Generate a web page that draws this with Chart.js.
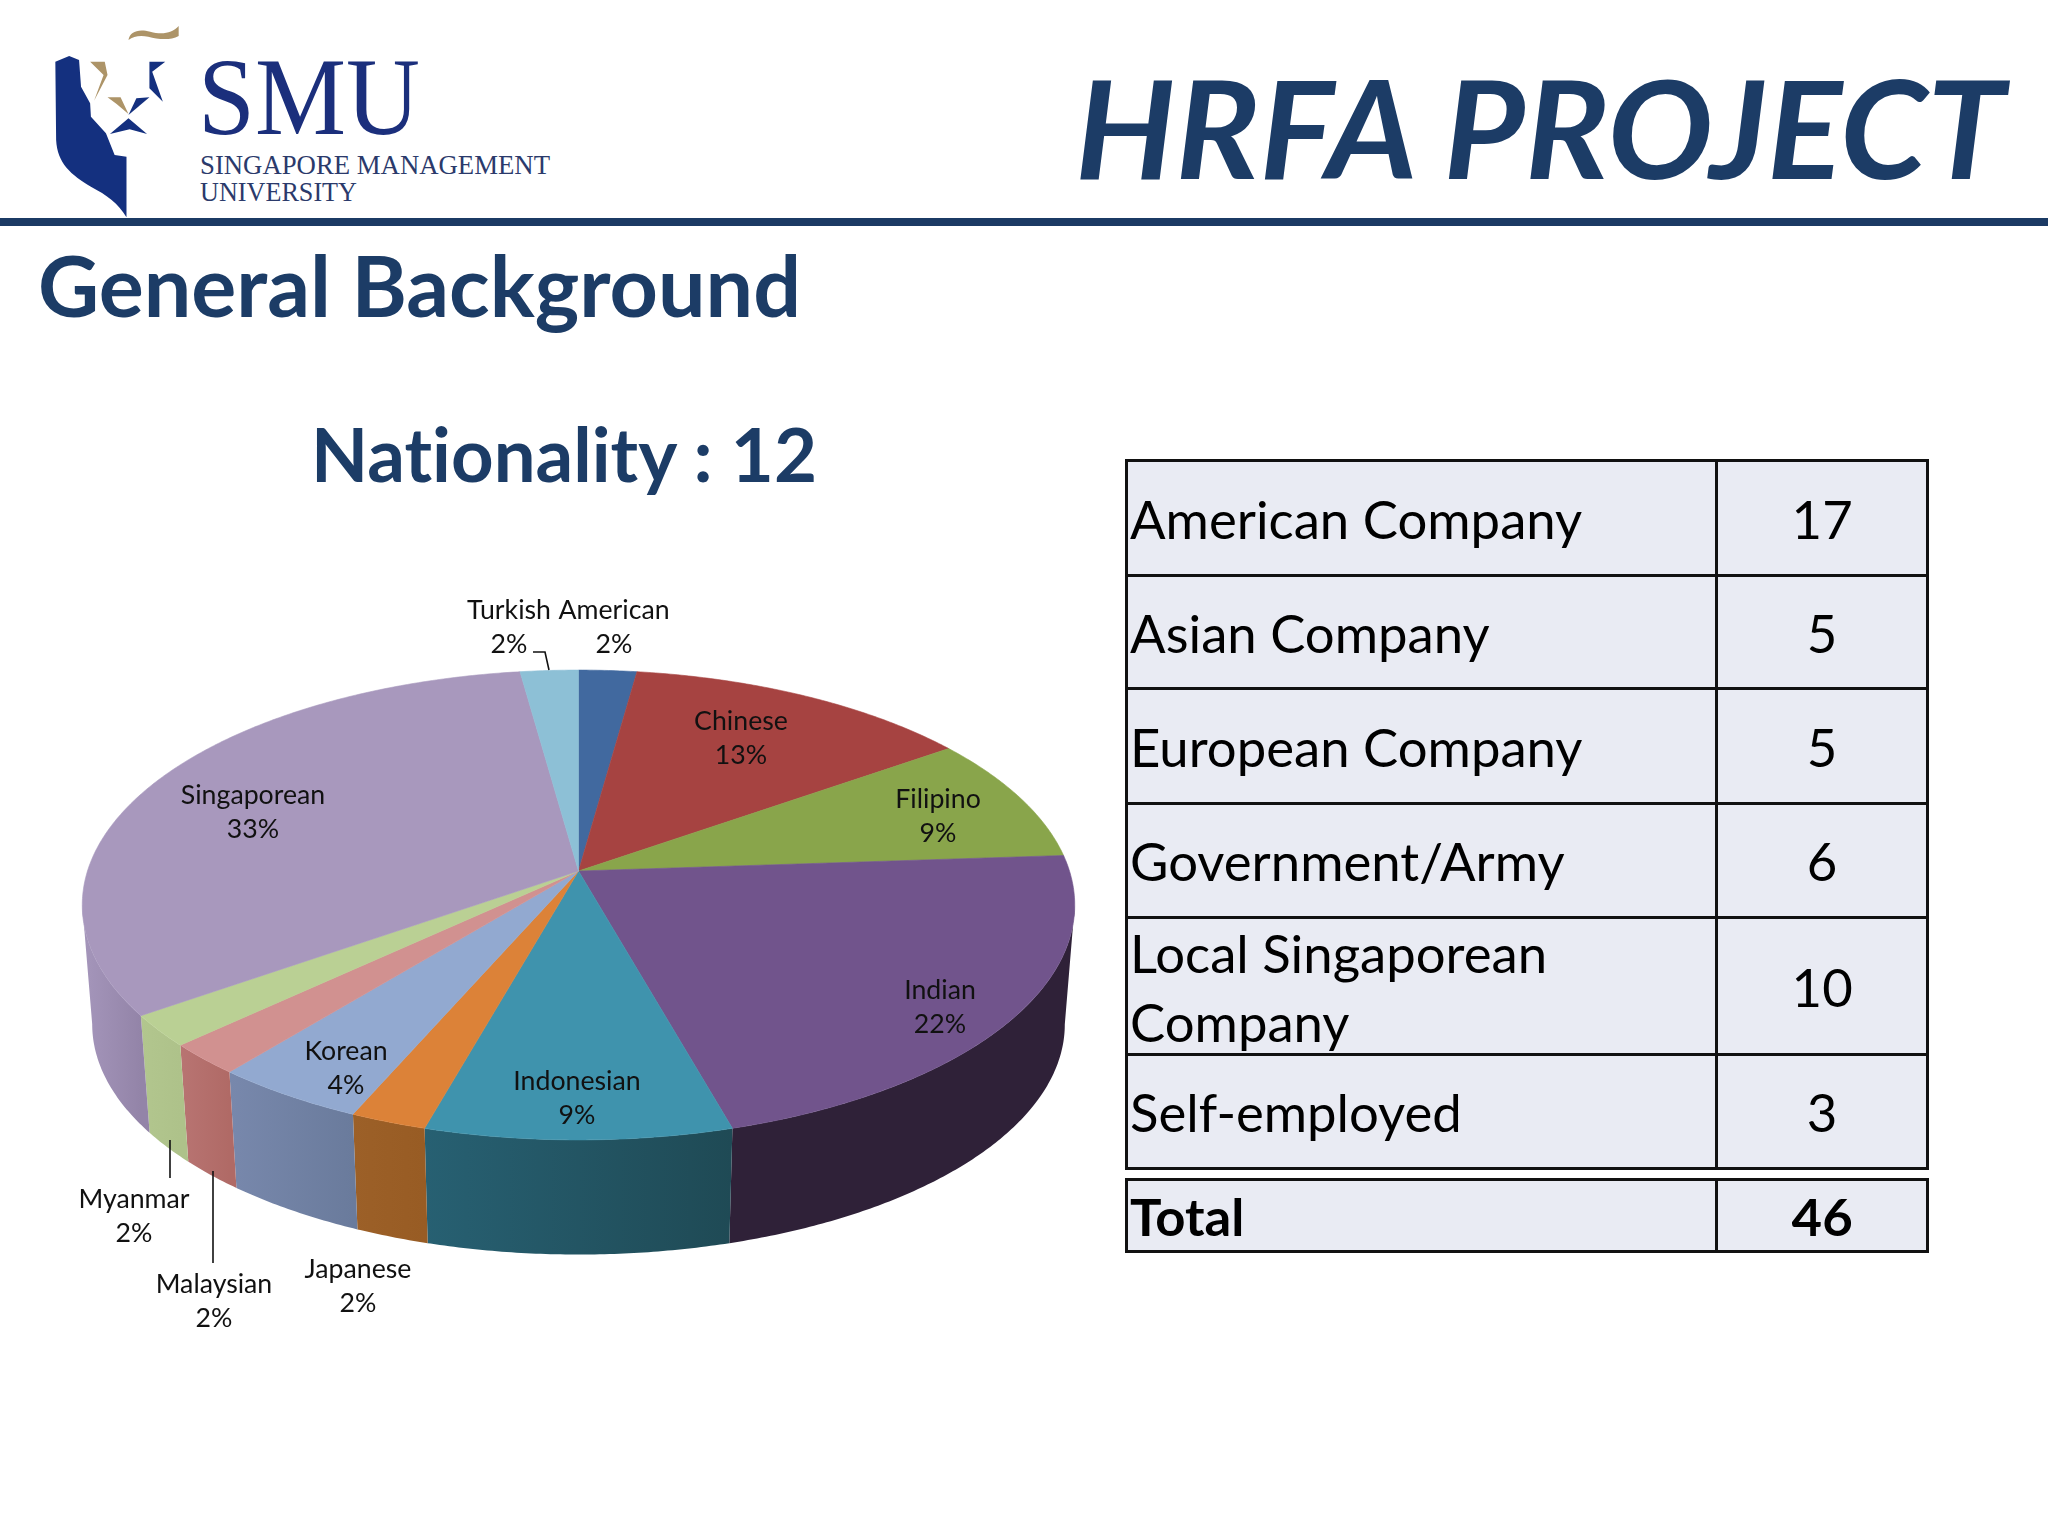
<!DOCTYPE html>
<html><head><meta charset="utf-8">
<style>
html,body{margin:0;padding:0;background:#fff;width:2048px;height:1536px;overflow:hidden}
#slide{position:absolute;left:0;top:0;width:2048px;height:1536px}
svg,canvas{position:absolute;left:0;top:0}
svg text{font-variant-ligatures:none}
table{position:absolute;border-collapse:collapse;table-layout:fixed;left:1125px;width:804px;font-family:Lato,sans-serif;color:#000;background:#e9ebf3;font-variant-ligatures:none}
td{border:3px solid #111;padding:0;font-size:52px;line-height:69px;overflow:hidden}
td.n{text-align:center}
td span{display:inline-block;transform:scaleX(1.013);transform-origin:left center;padding-left:2px;white-space:nowrap;position:relative;top:1px}
td span.two{margin:-4px 0;top:4px}
td.n span{transform-origin:center center;padding-left:0}
#totals td{font-weight:700}
</style></head>
<body><div id="slide">
<svg width="2048" height="1536" xmlns="http://www.w3.org/2000/svg">
  <g transform="scale(.3953,.3333)">
    <path fill="#14307f" d="M140 185 L175 168 L200 180 L205 260 L228 310 L230 350 L268 400 L290 465 L320 470 L320 652 C300 610 270 585 230 560 C180 525 145 490 142 420 Z"/>
    <path fill="#ad9468" d="M325 120 C328 95 350 85 380 95 C410 105 435 100 452 78 L452 108 C430 122 400 118 375 110 C355 105 338 108 325 120 Z"/>
    <path fill="#ad9468" d="M228 185 L265 185 L272 225 L238 302 L262 225 Z"/>
    <path fill="#ad9468" d="M272 292 L305 292 L325 342 L295 312 Z"/>
    <path fill="#14307f" d="M378 185 L418 185 L385 215 L412 305 L378 265 Z"/>
    <path fill="#14307f" d="M325 345 L345 295 L378 292 Z"/>
    <path fill="#14307f" d="M325 355 L372 402 L328 388 L278 402 Z"/>
  </g>
  <text x="198" y="134" font-family="'Liberation Serif',serif" font-size="110" fill="#1b2f7c" textLength="222" lengthAdjust="spacingAndGlyphs">SMU</text>
  <text x="200" y="174" font-family="'Liberation Serif',serif" font-size="27" fill="#2b3a6b" textLength="350" lengthAdjust="spacingAndGlyphs">SINGAPORE MANAGEMENT</text>
  <text x="200" y="201" font-family="'Liberation Serif',serif" font-size="27" fill="#2b3a6b" textLength="157" lengthAdjust="spacingAndGlyphs">UNIVERSITY</text>
  <text x="1075" y="179" font-family="Lato,sans-serif" font-weight="700" font-style="italic" font-size="136" fill="#1c3c66" textLength="930" lengthAdjust="spacingAndGlyphs">HRFA PROJECT</text>
  <rect x="0" y="218" width="2048" height="8" fill="#1b3a64"/>
  <text x="38" y="317" font-family="Lato,sans-serif" font-weight="700" font-size="84" fill="#1c3c66" textLength="763" lengthAdjust="spacingAndGlyphs">General Background</text>
  <text x="311" y="482" font-family="Lato,sans-serif" font-weight="700" font-size="75" fill="#1c3c66" textLength="506" lengthAdjust="spacingAndGlyphs">Nationality : 12</text>
</svg>
<canvas id="pie" width="2048" height="1536"></canvas>
<table id="rows" style="top:459px"></table>
<table id="totals" style="top:1178px"></table>
</div>
<script src="https://cdn.jsdelivr.net/npm/chart.js@4"></script>
<script>
// ---- data ----
const nationalities = ['American','Chinese','Filipino','Indian','Indonesian','Japanese','Korean','Malaysian','Myanmar','Singaporean','Turkish'];
const respondents   = [1,6,4,10,4,1,2,1,1,15,1];
const companyTypes  = ['American Company','Asian Company','European Company','Government/Army','Local Singaporean Company','Self-employed'];
const companyCounts = [17,5,5,6,10,3];
const totalLabel = 'Total';
const totalCount = 46;

// ---- styles ----
const topColors  = ['#41699f','#a64341','#89a54b','#71548c','#3f93ad','#dc8238','#92a9d0','#d19190','#bad094','#a898bd','#8dc0d6'];
const sideFrom   = ['#2d4a70','#6f2c2b','#5c6f32','#2f2138','#1f4a55','#985c24','#6a7b9c','#b06a66','#aec28a','#9384a8','#6a93a4'];
const sideTo     = ['#2d4a70','#6f2c2b','#5c6f32','#2f2138','#276072','#9c6028','#7888ac','#b87472','#b2c68e','#a596bb','#6a93a4'];
const rowHeights = [115,113,115,114,136,114];
const labelSpots = {American:[614,610.5],Chinese:[741,721.5],Filipino:[938,799.5],Indian:[940,990.5],Indonesian:[577,1081.5],Japanese:[358,1269.5],Korean:[346,1051.5],Malaysian:[214,1284.5],Myanmar:[134,1199.5],Singaporean:[253,795.5],Turkish:[509,610.5]};
const leaders = [[[170,1140],[170,1178]],[[213,1171],[213,1263]],[[533,652],[545,652],[549,670]]];

// ---- table ----
const rowsT = document.getElementById('rows');
const col = '<colgroup><col style="width:590px"><col></colgroup>';
rowsT.innerHTML = col + companyTypes.map((c,i)=>{
  const two = c.startsWith('Local');
  const parts = two ? c.replace(' Company','<br>Company') : c;
  return `<tr style="height:${rowHeights[i]}px"><td><span${two?' class="two"':''}>${parts}</span></td><td class="n"><span>${companyCounts[i]}</span></td></tr>`;
}).join('');
document.getElementById('totals').innerHTML = col + `<tr style="height:68px"><td><span>${totalLabel}</span></td><td class="n"><span>${totalCount}</span></td></tr>`;

// ---- perspective pie ----
const G = {cx:578.5, cy:871, R:491, a:230, k:.1447, dy:120, s:.98};
function proj(ang, bottom){
  const u=Math.cos(ang), v=Math.sin(ang), w=1-G.k*v, s=bottom?G.s:1;
  return [G.cx+s*G.R*u/w, G.cy+(bottom?G.dy:0)+s*G.a*v/w];
}
const pie3d = {
  id:'pie3d',
  beforeDatasetDraw(chart,args){
    const ctx=chart.ctx, arcs=chart.getDatasetMeta(args.index).data;
    const step=Math.PI/360, silA=Math.asin(G.k), silB=Math.PI-silA;
    ctx.save();
    // side wall: one gradient-filled band per slice, only the front part between the silhouette points
    arcs.forEach((arc,i)=>{
      const from=Math.max(arc.startAngle,silA), to=Math.min(arc.endAngle,silB);
      if(to<=from) return;
      const angs=[];
      for(let a=from;a<to;a+=step) angs.push(a);
      angs.push(to);
      const tops=angs.map(a=>proj(a,0)), bots=angs.map(a=>proj(a,1));
      const g=ctx.createLinearGradient(tops[0][0],0,tops[tops.length-1][0],0);
      g.addColorStop(0,sideFrom[i]);g.addColorStop(1,sideTo[i]);
      ctx.fillStyle=g;
      ctx.beginPath();
      tops.forEach((q,n)=>n?ctx.lineTo(q[0],q[1]):ctx.moveTo(q[0],q[1]));
      bots.reverse().forEach(q=>ctx.lineTo(q[0],q[1]));
      ctx.closePath();ctx.fill();
    });
    // top face
    arcs.forEach((arc,i)=>{
      ctx.fillStyle=topColors[i];ctx.strokeStyle=topColors[i];ctx.lineWidth=.6;
      ctx.beginPath();ctx.moveTo(G.cx,G.cy);
      for(let a=arc.startAngle;a<arc.endAngle;a+=step){const q=proj(a,0);ctx.lineTo(q[0],q[1]);}
      const e=proj(arc.endAngle,0);ctx.lineTo(e[0],e[1]);
      ctx.closePath();ctx.fill();ctx.stroke();
    });
    ctx.restore();
    return false;
  },
  afterDatasetsDraw(chart){
    const ctx=chart.ctx, total=respondents.reduce((a,b)=>a+b,0);
    ctx.save();
    ctx.strokeStyle='#111';ctx.lineWidth=1.6;
    leaders.forEach(l=>{ctx.beginPath();l.forEach((q,n)=>n?ctx.lineTo(q[0],q[1]):ctx.moveTo(q[0],q[1]));ctx.stroke();});
    ctx.font='26.7px Lato, sans-serif';ctx.fillStyle='#111';ctx.textAlign='center';ctx.textBaseline='middle';
    nationalities.forEach((n,i)=>{
      const [x,y]=labelSpots[n];
      ctx.fillText(n,x,y);
      ctx.fillText(Math.round(respondents[i]/total*100)+'%',x,y+34);
    });
    ctx.restore();
  }
};

new Chart(document.getElementById('pie'),{
  type:'pie',
  data:{labels:nationalities,datasets:[{data:respondents,backgroundColor:topColors,borderWidth:0}]},
  options:{responsive:false,animation:false,rotation:0,plugins:{legend:{display:false},tooltip:{enabled:false}}},
  plugins:[pie3d]
});
</script>
</body></html>
